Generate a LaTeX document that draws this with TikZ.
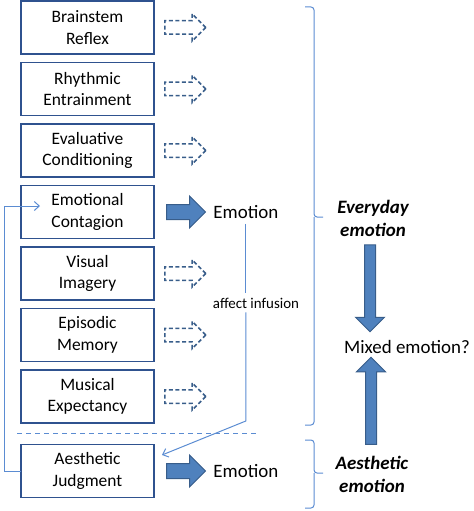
\documentclass[tikz,border=0pt]{standalone}
\usepackage{fontspec}
\setmainfont{Carlito}
\usetikzlibrary{arrows.meta,positioning,shapes.arrows,calc}
\definecolor{boxblue}{RGB}{47,82,143}
\definecolor{lineblue}{RGB}{91,140,210}
\definecolor{fillblue}{RGB}{79,129,189}
\definecolor{edgeblue}{RGB}{56,93,138}

\begin{document}
\begin{tikzpicture}[
  x=1bp, y=-1bp,
  node distance=8.5bp,
  mech/.style={draw=boxblue, line width=1.8bp, outer sep=0pt, minimum width=133bp, minimum height=53bp, align=center, inner sep=2bp, font=\fontsize{17.5}{21.5}\selectfont},
  harr/.style={single arrow, draw=edgeblue, line width=1.5bp, dash pattern=on 4bp off 2.5bp, inner sep=6bp, single arrow head extend=7bp, minimum height=41bp},
  farr/.style={single arrow, draw=edgeblue, fill=fillblue, line width=1bp, inner sep=7bp, single arrow head extend=8.5bp, minimum height=39bp},
  varr/.style={single arrow, draw=edgeblue, fill=fillblue, line width=1bp, inner sep=5bp, single arrow head extend=9bp, minimum height=87bp},
  lbl/.style={inner sep=2bp, font=\fontsize{19}{23}\selectfont},
  kind/.style={align=center, inner sep=1bp, font=\fontsize{19}{23}\selectfont\bfseries\itshape},
  bline/.style={draw=lineblue, line width=1bp},
  ar/.style={bline, -{Straight Barb[length=5bp,width=9bp]}}]
\useasboundingbox (0,0) rectangle (474,511);

% mechanisms
\node[mech] (br) at (87.5,27.5) {Brainstem\\Reflex};
\node[mech, below=of br] (re) {Rhythmic\\Entrainment};
\node[mech, below=of re] (ec) {Evaluative\\Conditioning};
\node[mech, below=of ec] (cg) {Emotional\\Contagion};
\node[mech, below=of cg] (vi) {Visual\\Imagery};
\node[mech, below=of vi] (em) {Episodic\\Memory};
\node[mech, below=of em] (me) {Musical\\Expectancy};
\node[mech] (aj) at (87.5,471) {Aesthetic\\Judgment};

% hollow arrows
\node[harr, right=10bp of br] (abr) {};
\node[harr, right=10bp of re] (are) {};
\node[harr, right=10bp of ec] (aec) {};
\node[harr, right=10bp of vi] (avi) {};
\node[harr, right=10bp of em] (aem) {};
\node[harr, right=10bp of me] (ame) {};

% emotions
\node[farr, right=12bp of cg] (acg) {};
\node[lbl, right=5bp of acg] (emo1) {Emotion};
\node[farr, right=12bp of aj] (aaj) {};
\node[lbl, right=5bp of aaj] (emo2) {Emotion};

\node[kind] (ev) at (373,218.5) {Everyday\\emotion};
\node[lbl] (mx) at (407,347) {Mixed emotion?};
\node[kind] (ae) at (372,474) {Aesthetic\\emotion};
\node[varr, shape border rotate=270] (dn) at (370,285.5) {};
\node[varr, shape border rotate=90] (up) at (371,403.5) {};

% affect infusion
\node[inner sep=2bp, font=\fontsize{15}{18}\selectfont] (inf) at (256,303) {affect infusion};
\coordinate (lvl) at (0,421);
\coordinate (ajin) at (162,455);
\draw[bline, shorten <=3bp, shorten >=3bp] (emo1.south) -- (emo1.south |- inf.north);
\draw[ar] ([yshift=-2bp]inf.south -| emo1.south) -- (emo1.south |- lvl) -- (ajin);

% feedback
\coordinate (fbin) at ($(cg.west)+(19bp,6bp)$);
\draw[ar] (aj.west) -- ++(-16bp,0) |- (fbin);

% separator
\coordinate (s1) at (17,433);
\coordinate (s2) at (260,433);
\draw[bline, dash pattern=on 5bp off 4bp] (s1) -- (s2);

% braces
\draw[bline, rounded corners=3bp] (305,7) -| (314,217) -- (323,217);
\draw[bline, rounded corners=3bp] (314,217) |- (305,425);
\draw[bline, rounded corners=3bp] (305,440) -| (314,473) -- (323,473);
\draw[bline, rounded corners=3bp] (314,473) |- (305,508);
\end{tikzpicture}
\end{document}
